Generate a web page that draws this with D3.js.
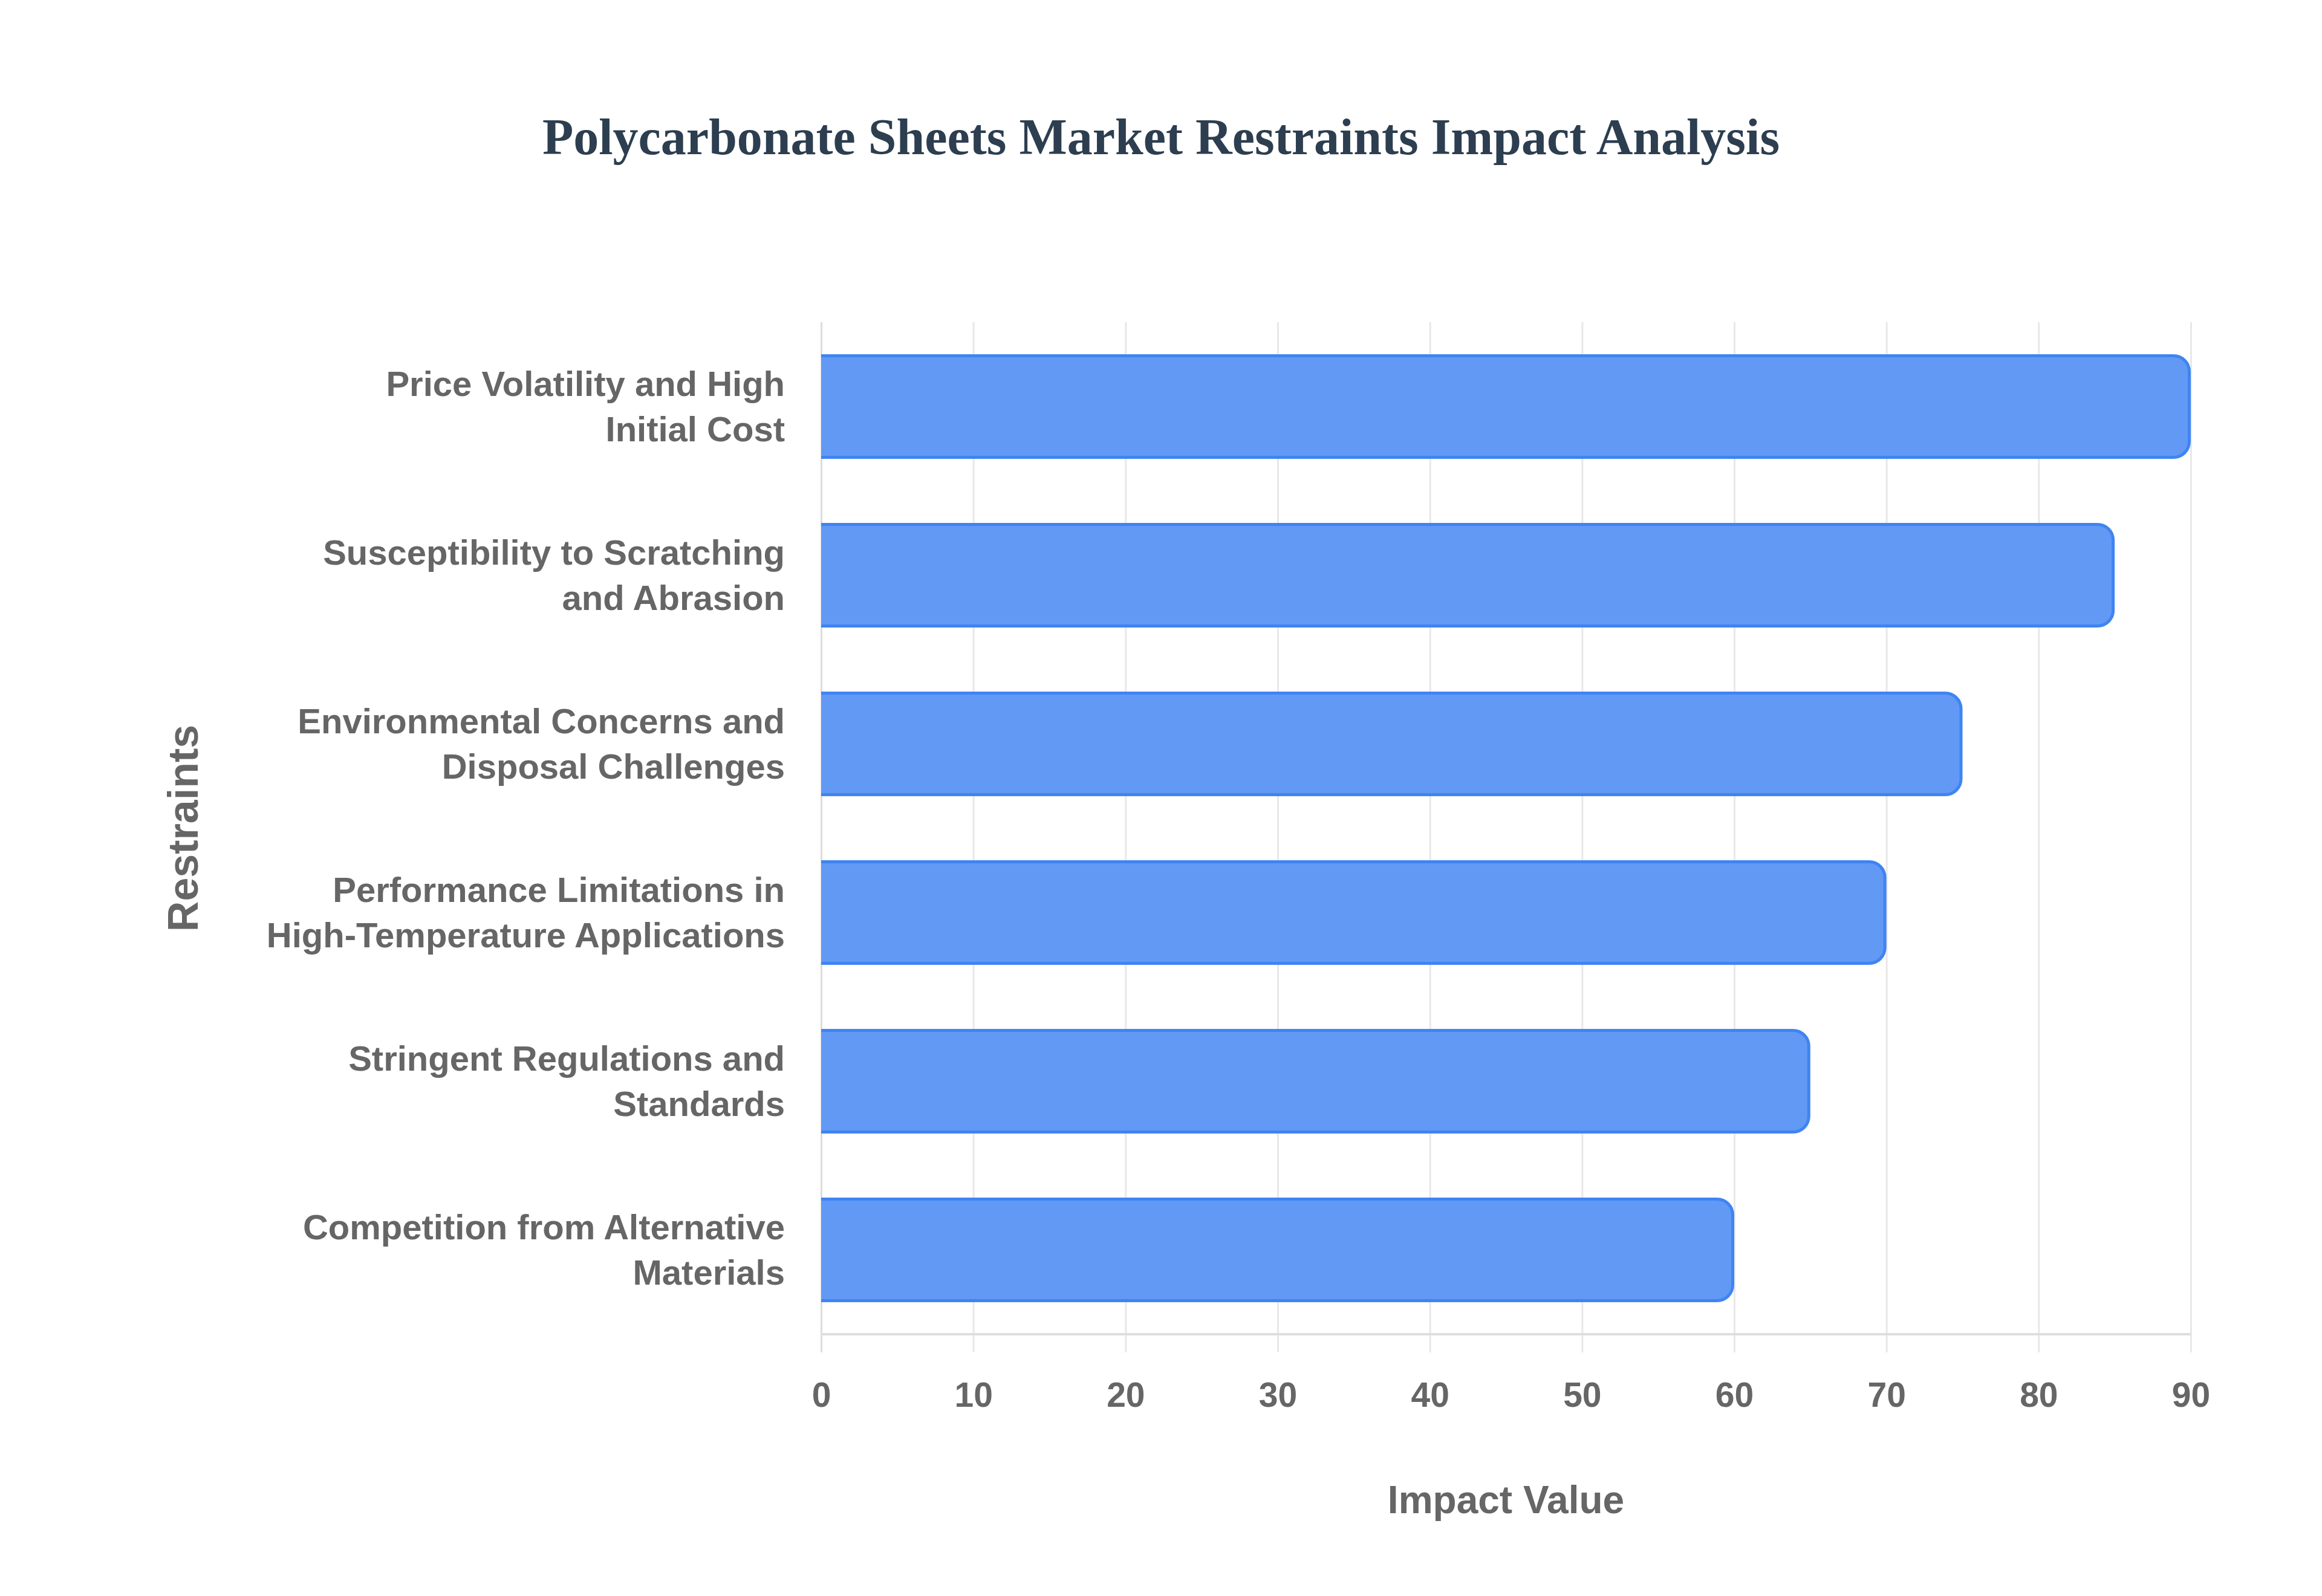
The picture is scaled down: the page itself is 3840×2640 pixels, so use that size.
<html>
<head>
  <meta charset="utf-8">
  <script src="https://d3js.org/d3.v7.min.js"></script>
  <style>
    body { margin: 0; background: #ffffff; }
  </style>
</head>
<body>
  <svg id="chart" width="3840" height="2640"></svg>
  <script>
    // data
    const categories = [
      "Price Volatility and High Initial Cost",
      "Susceptibility to Scratching and Abrasion",
      "Environmental Concerns and Disposal Challenges",
      "Performance Limitations in High-Temperature Applications",
      "Stringent Regulations and Standards",
      "Competition from Alternative Materials"
    ];
    const labelLines = [
      ["Price Volatility and High", "Initial Cost"],
      ["Susceptibility to Scratching", "and Abrasion"],
      ["Environmental Concerns and", "Disposal Challenges"],
      ["Performance Limitations in", "High-Temperature Applications"],
      ["Stringent Regulations and", "Standards"],
      ["Competition from Alternative", "Materials"]
    ];
    const impactValues = [90, 85, 75, 70, 65, 60];
    const xTicks = [0, 10, 20, 30, 40, 50, 60, 70, 80, 90];

    const svg = d3.select("svg#chart");
    const margins = { top: 533, right: 217, bottom: 433, left: 1358 };
    const width = +svg.attr("width");
    const height = +svg.attr("height");
    const chartWidth = width - margins.left - margins.right;
    const chartHeight = height - margins.top - margins.bottom;
    const sans = "'Liberation Sans', Arial, Helvetica, sans-serif";
    const textColor = "#666666";

    const xScale = d3.scaleLinear().domain([0, 90]).range([0, chartWidth]);
    const yScale = d3.scaleBand()
      .domain(categories)
      .range([0, chartHeight])
      .paddingInner(0.38)
      .paddingOuter(0.19);

    // title
    svg.append("text")
      .attr("x", width / 2)
      .attr("y", 255)
      .attr("text-anchor", "middle")
      .attr("font-family", "'Liberation Serif', 'Times New Roman', serif")
      .attr("font-weight", "bold")
      .attr("font-size", 84)
      .attr("fill", "#2c3e50")
      .text("Polycarbonate Sheets Market Restraints Impact Analysis");

    let chartArea = svg.append("g").attr("transform", `translate(${margins.left},${margins.top})`);

    // vertical grid + tick marks through the x axis
    let bottomA = d3.axisBottom(xScale)
      .tickValues(xTicks)
      .tickSize(chartHeight + 30)
      .tickPadding(50)
      .tickFormat(d3.format("d"));
    let xAxis = chartArea.append("g")
      .attr("class", "x axis")
      .call(bottomA);
    xAxis.select(".domain").remove();
    xAxis.selectAll(".tick line")
      .attr("stroke", d => d === 0 ? "#dcdcdc" : "#e8e8e8")
      .attr("stroke-width", 3);
    xAxis.selectAll(".tick text")
      .attr("font-family", sans)
      .attr("font-weight", "bold")
      .attr("font-size", 57)
      .attr("fill", textColor)
      .attr("dy", "0.71em");

    // bottom border line
    chartArea.append("line")
      .attr("x1", 0)
      .attr("x2", chartWidth)
      .attr("y1", chartHeight)
      .attr("y2", chartHeight)
      .attr("stroke", "#dedede")
      .attr("stroke-width", 4);

    // bars: left edge square, right corners rounded
    const r = 26, bw = 5;
    const barShape = (d, i, closed) => {
      const x0 = 0;
      const x1 = xScale(d) - bw / 2;
      const y0 = yScale(categories[i]) + bw / 2;
      const y1 = yScale(categories[i]) + yScale.bandwidth() - bw / 2;
      let p = d3.path();
      p.moveTo(x0, y0);
      p.lineTo(x1 - r, y0);
      p.arcTo(x1, y0, x1, y0 + r, r);
      p.lineTo(x1, y1 - r);
      p.arcTo(x1, y1, x1 - r, y1, r);
      p.lineTo(x0, y1);
      if (closed) p.closePath();
      return p.toString();
    };
    chartArea.selectAll("path.bar").data(impactValues)
      .join("path")
      .attr("class", "bar")
      .attr("d", (d, i) => barShape(d, i, true))
      .attr("fill", "#6299f5");
    chartArea.selectAll("path.bar-border").data(impactValues)
      .join("path")
      .attr("class", "bar-border")
      .attr("d", (d, i) => barShape(d, i, false))
      .attr("fill", "none")
      .attr("stroke", "#3f84f2")
      .attr("stroke-width", bw);

    // category labels, two lines each
    let yLabels = chartArea.selectAll("text.cat").data(categories)
      .join("text")
      .attr("class", "cat")
      .attr("x", -60)
      .attr("y", d => yScale(d) + yScale.bandwidth() / 2)
      .attr("text-anchor", "end")
      .attr("font-family", sans)
      .attr("font-weight", "bold")
      .attr("font-size", 58)
      .attr("fill", textColor);
    yLabels.each(function(d, i) {
      const t = d3.select(this);
      labelLines[i].forEach((line, j) => {
        t.append("tspan")
          .attr("x", -60)
          .attr("dy", j === 0 ? -18 : 75)
          .text(line);
      });
    });

    // axis titles
    svg.append("text")
      .attr("x", margins.left + chartWidth / 2)
      .attr("y", 2503)
      .attr("text-anchor", "middle")
      .attr("font-family", sans)
      .attr("font-weight", "bold")
      .attr("font-size", 64)
      .attr("fill", textColor)
      .text("Impact Value");

    svg.append("text")
      .attr("transform", "rotate(-90)")
      .attr("x", -(margins.top + chartHeight / 2))
      .attr("y", 327)
      .attr("text-anchor", "middle")
      .attr("font-family", sans)
      .attr("font-weight", "bold")
      .attr("font-size", 70)
      .attr("fill", textColor)
      .text("Restraints");
  </script>
</body>
</html>
